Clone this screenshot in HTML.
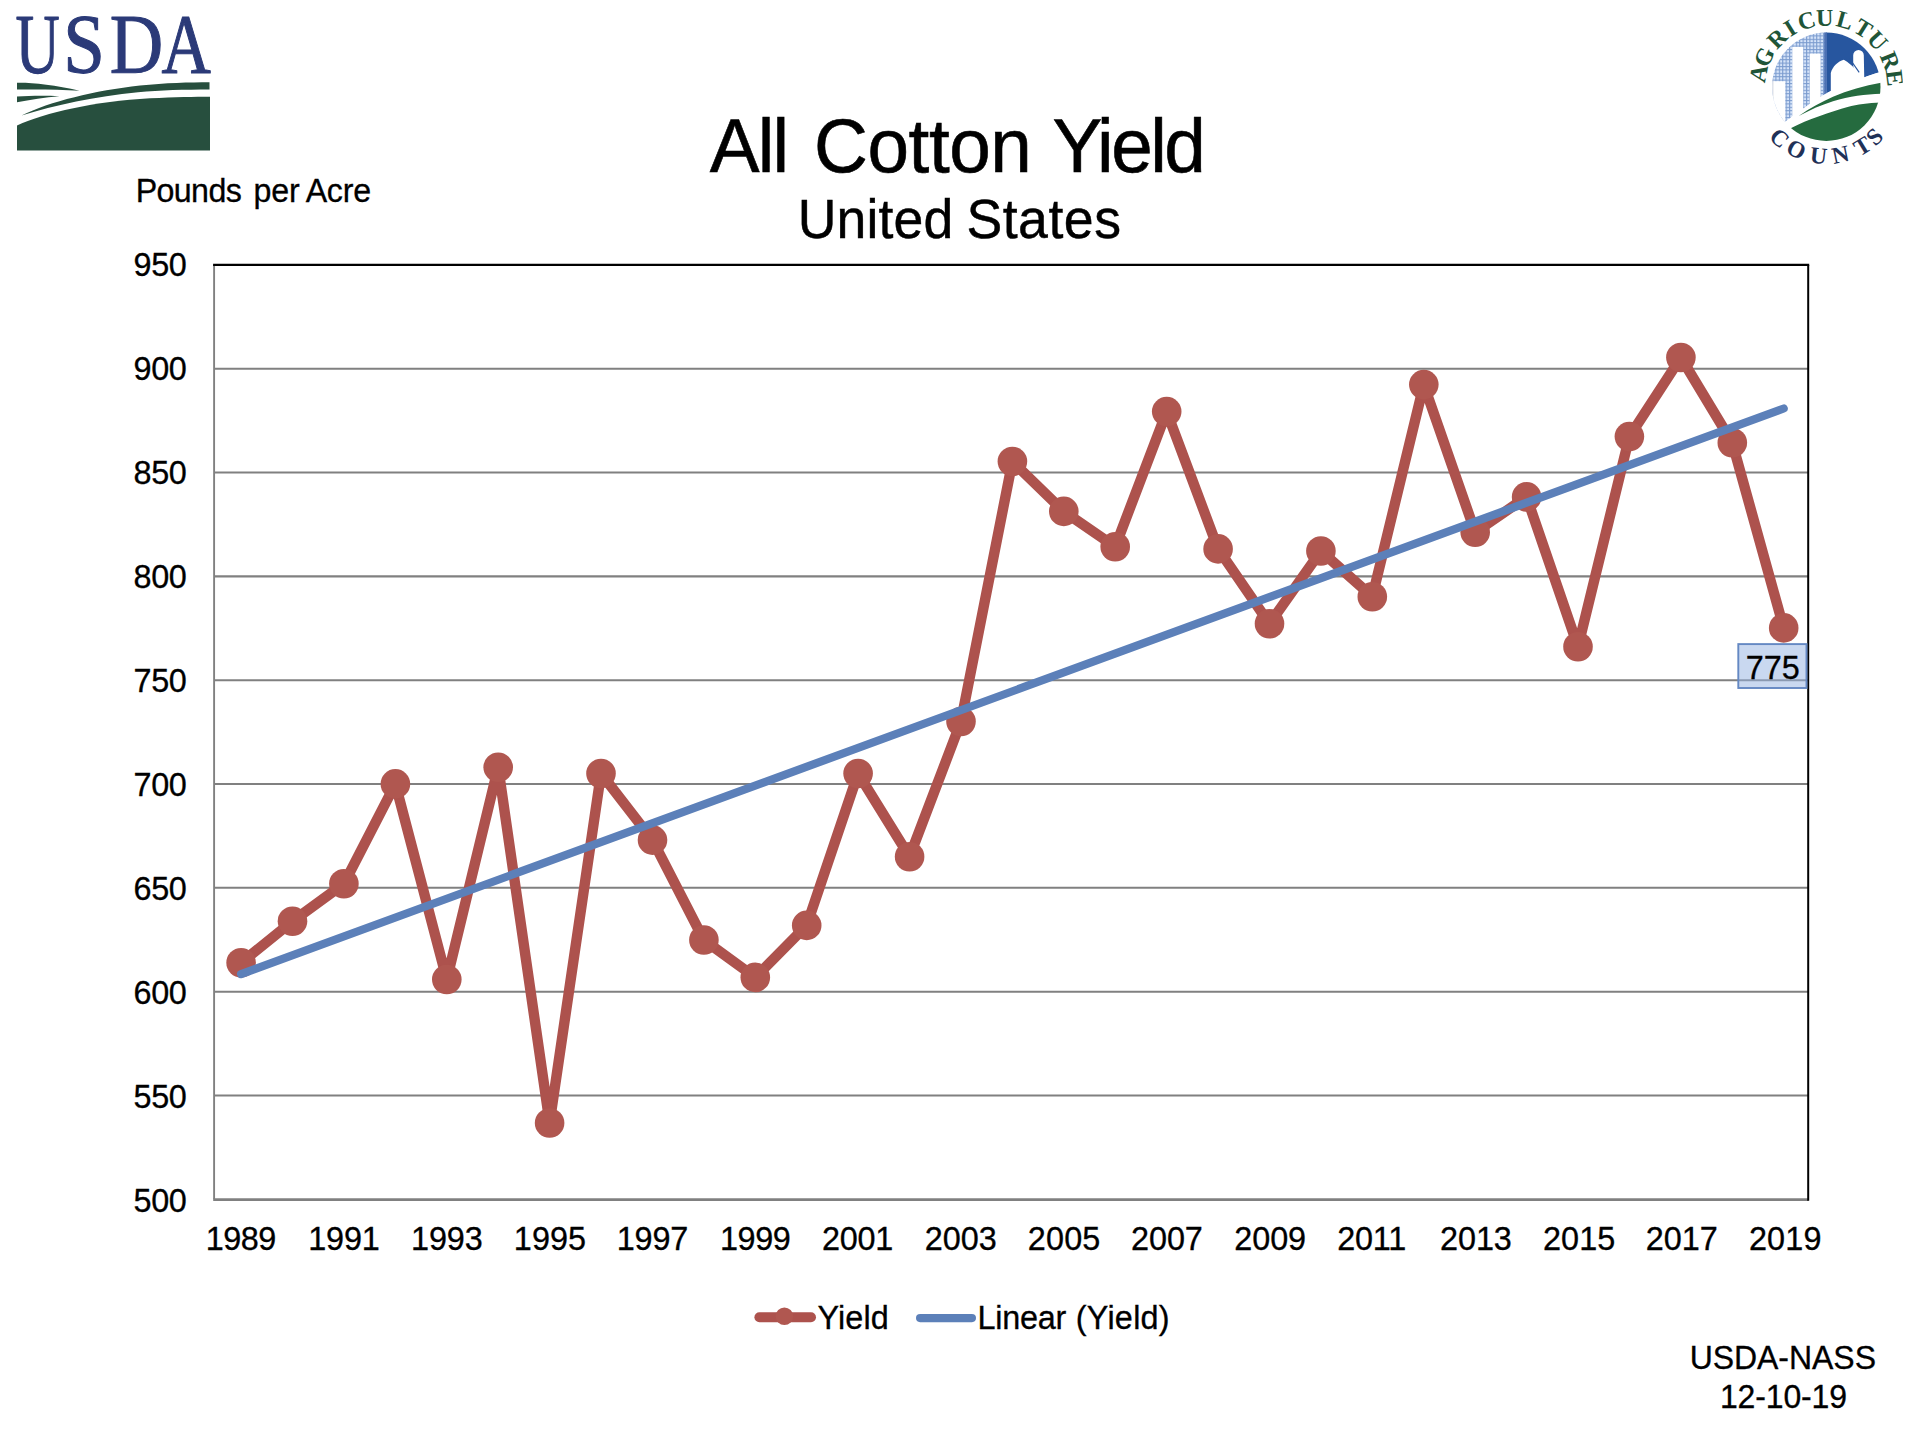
<!DOCTYPE html>
<html lang="en"><head><meta charset="utf-8"><title>All Cotton Yield - United States</title>
<style>
html,body{margin:0;padding:0;background:#fff;}
body{width:1918px;height:1440px;overflow:hidden;}
svg{display:block;}
text{font-family:"Liberation Sans", Arial, sans-serif;fill:#000;white-space:pre;}
</style></head><body>
<svg width="1918" height="1440" viewBox="0 0 1918 1440">
<rect width="1918" height="1440" fill="#fff"/>
<text transform="translate(0 72.8) scale(1 0.8411)" font-size="100" stroke="#2B3A78" stroke-width="1.3" stroke-linejoin="round" style="fill:#2B3A78;font-family:'Liberation Serif','Times New Roman',serif"><tspan x="15.49" y="0" textLength="44.22" lengthAdjust="spacingAndGlyphs">U</tspan><tspan x="63.18" y="0" textLength="41.57" lengthAdjust="spacingAndGlyphs">S</tspan><tspan x="109.79" y="0" textLength="53.42" lengthAdjust="spacingAndGlyphs">D</tspan><tspan x="161.55" y="0" textLength="49.33" lengthAdjust="spacingAndGlyphs">A</tspan></text>
<g fill="#274F3E">
<path d="M17 125.5 C45 112.5 95 101.5 150 98.3 C175 96.9 195 96.7 210 96.7 L210 150.6 L17 150.6 Z"/>
<path d="M21.5 115.5 C50 101.5 95 90.5 140 85.5 C165 82.8 190 82.2 209.5 82.2 L209.5 89.4 C185 89.4 160 90 138 92.3 C95 96.8 55 105 21.5 115.5 Z"/>
<path d="M17 82.8 C30 82.4 55 84.8 79.5 90.8 C60 89.4 35 89.3 17 89.6 Z"/>
<path d="M17 96.6 C30 95.6 45 95.4 59.5 96.2 C45 97.4 30 99.5 17 102.3 Z"/>
</g>

<defs>
<clipPath id="agc"><circle cx="1826.3" cy="86.8" r="54.2"/></clipPath>
<pattern id="agg" width="3.4" height="3.4" patternUnits="userSpaceOnUse" x="1772" y="32"><rect width="3.4" height="3.4" fill="#D6E4F9"/><path d="M0 0.55H3.4M0.55 0V3.4" stroke="#7C9CCF" stroke-width="1.1" fill="none"/></pattern>
<clipPath id="agj"><rect x="1750" y="9.1" width="152.8" height="154.8"/></clipPath>
</defs>
<g clip-path="url(#agj)">
<g clip-path="url(#agc)">
<path d="M1770 135 L1783 123.6 C1795 114 1812 102 1826.5 93.2 L1826.5 20 L1765 20 Z" fill="url(#agg)"/>
<rect x="1765" y="81.2" width="20.3" height="60" fill="#fff"/>
<rect x="1792.3" y="46.9" width="10.9" height="72" fill="#fff"/>
<rect x="1809.7" y="53.6" width="10.9" height="60" fill="#fff"/>
<line x1="1772.9" x2="1772.9" y1="80" y2="110" stroke="#C9CED8" stroke-width="0.8"/>
<path d="M1826.5 93.2 C1845 83.5 1865 77 1882 71.5 L1882 20 L1826 20 Z" fill="#27569F"/>
<rect x="1824.2" y="30" width="2.6" height="64.5" fill="#4C71B3"/>
<path d="M1830.8 95 L1830.8 73 C1832.5 66.5 1838 61.5 1843.8 59.8 C1848 62 1853 66.5 1859.5 73.5 L1864.2 78.5 L1864.2 95 Z" fill="#fff"/>
<path d="M1853.2 66 L1853.2 55.2 A5.3 5.3 0 0 1 1863.8 55.2 L1864.3 80 L1858 80 Z" fill="#fff"/>
<path d="M1849.6 58.6 L1859.2 72.4" stroke="#27569F" stroke-width="1.1" fill="none"/>
<path d="M1770 135 L1783 123.6 C1795 114 1812 102 1826.5 93.2 C1845 83.5 1865 77 1882 71.5 L1882 150 L1770 150 Z" fill="#fff"/>
<path d="M1798.7 116.1 C1810 108 1822 101.6 1833 96.8 C1848 90.3 1865 85.5 1882 82.6 L1882 93.7 C1866 94 1850 96.2 1833 101.2 C1822 104.6 1810 109.8 1798.7 116.1 Z" fill="#256B3F"/>
<path d="M1790.2 128.6 C1800 123.2 1809 119.6 1818.4 116.4 C1830 112.4 1840 109.2 1847.6 107 C1858 104.2 1868 102.8 1882 102.4 L1882 150 L1780 150 Z" fill="#256B3F"/>
</g>
<text x="1764.77 1767.29 1776.78 1790.36 1800.47 1816.25 1834.89 1852.13 1865.75 1879.50 1885.79" y="83.56 68.76 50.14 37.29 30.86 26.01 25.88 30.96 39.47 55.73 71.11" rotate="281.1 295.7 314.6 328.4 343.3 358.7 15.5 32.3 47.9 67.8 82.7" font-size="24" font-weight="bold" style="font-family:'Liberation Serif','Times New Roman',serif;fill:#1F5538">AGRICULTURE</text>
<text x="1767.89 1784.82 1809.13 1833.65 1859.83 1875.23" y="137.99 152.54 162.54 164.12 156.78 146.87" rotate="42.5 25.5 6.5 348.3 328.6 316.0" font-size="23.5" font-weight="bold" style="font-family:'Liberation Serif','Times New Roman',serif;fill:#1F3157">COUNTS</text>
</g>

<g stroke="#808080" stroke-width="2.1">
<line x1="214.1" x2="1808.4" y1="1095.5" y2="1095.5"/>
<line x1="214.1" x2="1808.4" y1="991.7" y2="991.7"/>
<line x1="214.1" x2="1808.4" y1="887.8" y2="887.8"/>
<line x1="214.1" x2="1808.4" y1="784.0" y2="784.0"/>
<line x1="214.1" x2="1808.4" y1="680.2" y2="680.2"/>
<line x1="214.1" x2="1808.4" y1="576.4" y2="576.4"/>
<line x1="214.1" x2="1808.4" y1="472.5" y2="472.5"/>
<line x1="214.1" x2="1808.4" y1="368.7" y2="368.7"/>
<line x1="214.1" x2="214.1" y1="264.9" y2="1199.3" stroke-width="1.9"/>
<line x1="213.2" x2="1808.4" y1="1199.6" y2="1199.6" stroke-width="2.7"/>
</g>
<line x1="213.1" x2="1809.2" y1="264.9" y2="264.9" stroke="#000" stroke-width="2.2"/>
<line x1="1808.2" x2="1808.2" y1="264.9" y2="1200.8" stroke="#000" stroke-width="2.0"/>
<polyline points="241.1,962.8 292.5,921.2 343.9,883.8 395.4,783.9 446.8,979.5 498.2,767.3 549.6,1123.0 601.0,773.5 652.5,840.1 703.9,940.0 755.3,977.4 806.7,925.4 858.1,773.5 909.6,856.7 961.0,721.5 1012.4,461.5 1063.8,511.4 1115.2,546.8 1166.7,411.6 1218.1,548.9 1269.5,623.8 1320.9,551.0 1372.3,596.7 1423.8,384.6 1475.2,532.3 1526.6,496.9 1578.0,646.7 1629.4,436.6 1680.9,357.5 1732.3,442.8 1783.7,627.9" fill="none" stroke="#AD524D" stroke-width="10.4" stroke-linejoin="round" stroke-linecap="round"/>
<g fill="#B05750">
<circle cx="241.1" cy="962.8" r="14.8"/>
<circle cx="292.5" cy="921.2" r="14.8"/>
<circle cx="343.9" cy="883.8" r="14.8"/>
<circle cx="395.4" cy="783.9" r="14.8"/>
<circle cx="446.8" cy="979.5" r="14.8"/>
<circle cx="498.2" cy="767.3" r="14.8"/>
<circle cx="549.6" cy="1123.0" r="14.8"/>
<circle cx="601.0" cy="773.5" r="14.8"/>
<circle cx="652.5" cy="840.1" r="14.8"/>
<circle cx="703.9" cy="940.0" r="14.8"/>
<circle cx="755.3" cy="977.4" r="14.8"/>
<circle cx="806.7" cy="925.4" r="14.8"/>
<circle cx="858.1" cy="773.5" r="14.8"/>
<circle cx="909.6" cy="856.7" r="14.8"/>
<circle cx="961.0" cy="721.5" r="14.8"/>
<circle cx="1012.4" cy="461.5" r="14.8"/>
<circle cx="1063.8" cy="511.4" r="14.8"/>
<circle cx="1115.2" cy="546.8" r="14.8"/>
<circle cx="1166.7" cy="411.6" r="14.8"/>
<circle cx="1218.1" cy="548.9" r="14.8"/>
<circle cx="1269.5" cy="623.8" r="14.8"/>
<circle cx="1320.9" cy="551.0" r="14.8"/>
<circle cx="1372.3" cy="596.7" r="14.8"/>
<circle cx="1423.8" cy="384.6" r="14.8"/>
<circle cx="1475.2" cy="532.3" r="14.8"/>
<circle cx="1526.6" cy="496.9" r="14.8"/>
<circle cx="1578.0" cy="646.7" r="14.8"/>
<circle cx="1629.4" cy="436.6" r="14.8"/>
<circle cx="1680.9" cy="357.5" r="14.8"/>
<circle cx="1732.3" cy="442.8" r="14.8"/>
<circle cx="1783.7" cy="627.9" r="14.8"/>
</g>
<line x1="241.1" y1="974.1" x2="1783.7" y2="408.5" stroke="#5C80B9" stroke-width="8.2" stroke-linecap="round"/>
<rect x="1738.3" y="644.1" width="68.2" height="43.9" fill="#93B1E1" fill-opacity="0.5" stroke="#6488C3" stroke-width="1.9"/>
<line x1="759.4" x2="811" y1="1317.3" y2="1317.3" stroke="#AD524D" stroke-width="10" stroke-linecap="round"/>
<circle cx="784.4" cy="1316.2" r="8.8" fill="#B05750"/>
<line x1="920.1" x2="971.9" y1="1318.1" y2="1318.1" stroke="#5C80B9" stroke-width="8.2" stroke-linecap="round"/>
<text transform="translate(0 171.8) scale(1 1.01)" font-size="74.67" stroke="#000" stroke-width="0.6"><tspan x="709.7" letter-spacing="-1.741">All</tspan> <tspan x="814.0" letter-spacing="-0.428">Cotton</tspan> <tspan x="1052.6" letter-spacing="-2.529">Yield</tspan></text>
<text transform="translate(0 237.6) scale(1 1.02)" font-size="53.6" stroke="#000" stroke-width="0.45"><tspan x="797.73" letter-spacing="0.147">United</tspan> <tspan x="966.43" letter-spacing="0.522">States</tspan></text>
<text transform="translate(0 201.8) scale(1 1.02)" font-size="32.2" stroke="#000" stroke-width="0.3"><tspan x="135.75" letter-spacing="-0.635">Pounds</tspan> <tspan x="253.55" letter-spacing="-0.151">per</tspan> <tspan x="305.65" letter-spacing="-0.26">Acre</tspan></text>
<text transform="translate(133.55 1212.0) scale(1 1.04)" font-size="32.4" letter-spacing="-0.364" stroke="#000" stroke-width="0.3">500</text>
<text transform="translate(133.55 1108.0) scale(1 1.04)" font-size="32.4" letter-spacing="-0.364" stroke="#000" stroke-width="0.3">550</text>
<text transform="translate(133.55 1003.9) scale(1 1.04)" font-size="32.4" letter-spacing="-0.364" stroke="#000" stroke-width="0.3">600</text>
<text transform="translate(133.55 899.9) scale(1 1.04)" font-size="32.4" letter-spacing="-0.364" stroke="#000" stroke-width="0.3">650</text>
<text transform="translate(133.55 795.8) scale(1 1.04)" font-size="32.4" letter-spacing="-0.364" stroke="#000" stroke-width="0.3">700</text>
<text transform="translate(133.55 691.8) scale(1 1.04)" font-size="32.4" letter-spacing="-0.364" stroke="#000" stroke-width="0.3">750</text>
<text transform="translate(133.55 587.7) scale(1 1.04)" font-size="32.4" letter-spacing="-0.364" stroke="#000" stroke-width="0.3">800</text>
<text transform="translate(133.55 483.7) scale(1 1.04)" font-size="32.4" letter-spacing="-0.364" stroke="#000" stroke-width="0.3">850</text>
<text transform="translate(133.55 379.6) scale(1 1.04)" font-size="32.4" letter-spacing="-0.364" stroke="#000" stroke-width="0.3">900</text>
<text transform="translate(133.55 275.6) scale(1 1.04)" font-size="32.4" letter-spacing="-0.364" stroke="#000" stroke-width="0.3">950</text>
<text transform="translate(205.75 1249.8) scale(1 1.04)" font-size="32.4" letter-spacing="-0.481" stroke="#000" stroke-width="0.3">1989</text>
<text transform="translate(308.35 1249.8) scale(1 1.04)" font-size="32.4" letter-spacing="-0.25" stroke="#000" stroke-width="0.3">1991</text>
<text transform="translate(411.05 1249.8) scale(1 1.04)" font-size="32.4" letter-spacing="-0.147" stroke="#000" stroke-width="0.3">1993</text>
<text transform="translate(513.85 1249.8) scale(1 1.04)" font-size="32.4" letter-spacing="0.053" stroke="#000" stroke-width="0.3">1995</text>
<text transform="translate(616.75 1249.8) scale(1 1.04)" font-size="32.4" letter-spacing="-0.181" stroke="#000" stroke-width="0.3">1997</text>
<text transform="translate(719.95 1249.8) scale(1 1.04)" font-size="32.4" letter-spacing="-0.381" stroke="#000" stroke-width="0.3">1999</text>
<text transform="translate(822.05 1249.8) scale(1 1.04)" font-size="32.4" letter-spacing="-0.25" stroke="#000" stroke-width="0.3">2001</text>
<text transform="translate(924.85 1249.8) scale(1 1.04)" font-size="32.4" letter-spacing="-0.014" stroke="#000" stroke-width="0.3">2003</text>
<text transform="translate(1027.75 1249.8) scale(1 1.04)" font-size="32.4" letter-spacing="0.186" stroke="#000" stroke-width="0.3">2005</text>
<text transform="translate(1130.95 1249.8) scale(1 1.04)" font-size="32.4" letter-spacing="-0.047" stroke="#000" stroke-width="0.3">2007</text>
<text transform="translate(1234.35 1249.8) scale(1 1.04)" font-size="32.4" letter-spacing="-0.114" stroke="#000" stroke-width="0.3">2009</text>
<text transform="translate(1337.25 1249.8) scale(1 1.04)" font-size="32.4" letter-spacing="-0.25" stroke="#000" stroke-width="0.3">2011</text>
<text transform="translate(1440.05 1249.8) scale(1 1.04)" font-size="32.4" letter-spacing="-0.081" stroke="#000" stroke-width="0.3">2013</text>
<text transform="translate(1542.95 1249.8) scale(1 1.04)" font-size="32.4" letter-spacing="0.119" stroke="#000" stroke-width="0.3">2015</text>
<text transform="translate(1645.65 1249.8) scale(1 1.04)" font-size="32.4" letter-spacing="0.019" stroke="#000" stroke-width="0.3">2017</text>
<text transform="translate(1748.95 1249.8) scale(1 1.04)" font-size="32.4" letter-spacing="0.153" stroke="#000" stroke-width="0.3">2019</text>
<text transform="translate(1745.85 678.9) scale(1 1.04)" font-size="32.4" letter-spacing="-0.114" stroke="#000" stroke-width="0.3">775</text>
<text transform="translate(817.45 1329.0) scale(1 1.02)" font-size="32.4" letter-spacing="0.123" stroke="#000" stroke-width="0.3">Yield</text>
<text transform="translate(0 1329.0) scale(1 1.02)" font-size="32.4" stroke="#000" stroke-width="0.3"><tspan x="977.55" letter-spacing="-0.271">Linear</tspan> <tspan x="1075.75" letter-spacing="0.249">(Yield)</tspan></text>
<text transform="translate(1689.65 1368.5) scale(1 1.04)" font-size="32.0" letter-spacing="-0.032" stroke="#000" stroke-width="0.3">USDA-NASS</text>
<text transform="translate(1719.95 1407.8) scale(1 1.046)" font-size="32.0" letter-spacing="-0.142" stroke="#000" stroke-width="0.3">12-10-19</text>
</svg>
</body></html>
